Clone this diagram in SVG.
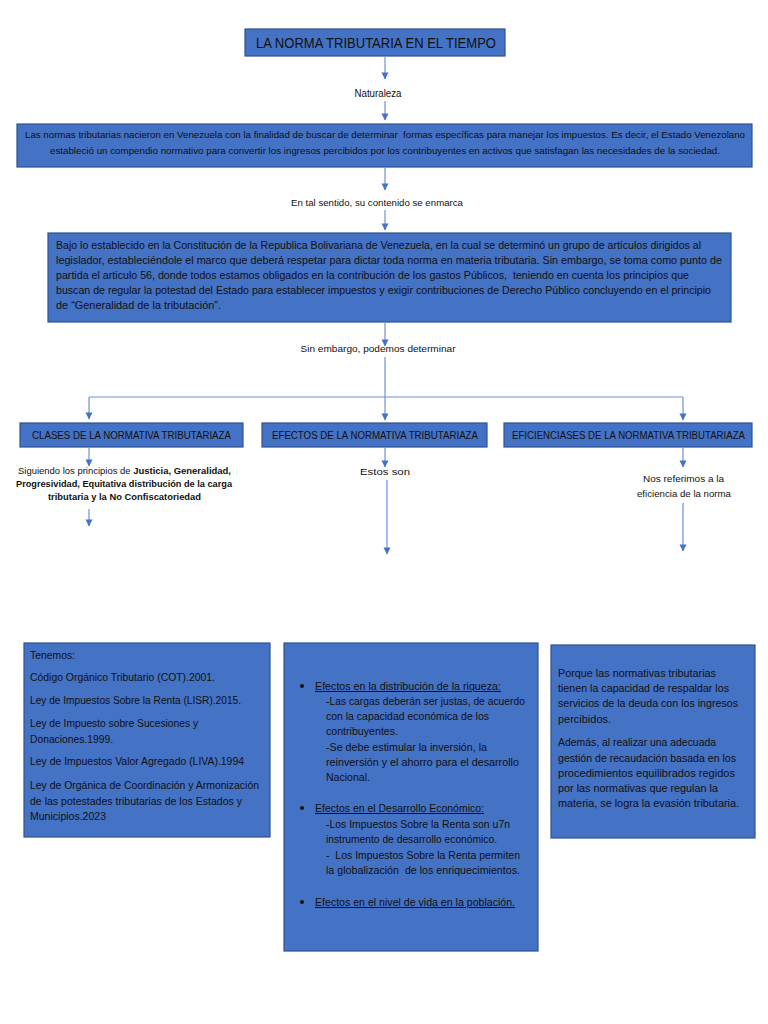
<svg xmlns="http://www.w3.org/2000/svg" width="768" height="1024" viewBox="0 0 768 1024">
<defs>
<marker id="ah" markerUnits="userSpaceOnUse" markerWidth="8" markerHeight="8" viewBox="0 0 8 8" refX="7" refY="4" orient="auto">
<path d="M0.5,0.5 L7.5,4 L0.5,7.5 Z" fill="#4472C4"/>
</marker>
<style>
.box{fill:#4472C4;stroke:#2F528F;stroke-width:1.2}
.t{font-family:"Liberation Sans",Arial,sans-serif;fill:#111;}
.s9{font-size:9px}
.s10{font-size:10px}
.s11{font-size:11px}
.s14{font-size:14px}
.c{text-anchor:middle}
.b{font-weight:bold}
.u{text-decoration:underline}
.pre{white-space:pre}
.ln{stroke:#6F93D6;stroke-width:1.2;fill:none}
</style>
</defs>
<rect width="768" height="1024" fill="#fff"/>

<g id="connectors">
<path class="ln" d="M385,57 V79" marker-end="url(#ah)"/>
<path class="ln" d="M385,101 V120" marker-end="url(#ah)"/>
<path class="ln" d="M385,168 V190" marker-end="url(#ah)"/>
<path class="ln" d="M385,210 V230" marker-end="url(#ah)"/>
<path class="ln" d="M385,323 V346" marker-end="url(#ah)"/>
<path class="ln" d="M385,357 V397"/>
<path class="ln" d="M89,397 H683"/>
<path class="ln" d="M89,397 V419" marker-end="url(#ah)"/>
<path class="ln" d="M385,397 V420" marker-end="url(#ah)"/>
<path class="ln" d="M683,397 V420" marker-end="url(#ah)"/>
<path class="ln" d="M89,448 V466" marker-end="url(#ah)"/>
<path class="ln" d="M89,509 V526" marker-end="url(#ah)"/>
<path class="ln" d="M385,448 V467" marker-end="url(#ah)"/>
<path class="ln" d="M387,480 V554" marker-end="url(#ah)"/>
<path class="ln" d="M683,448 V467" marker-end="url(#ah)"/>
<path class="ln" d="M683,503 V551" marker-end="url(#ah)"/>
</g>

<g id="title">
<rect class="box" x="245" y="29" width="260" height="27"/>
<text class="t s14 c" x="376" y="48" textLength="240" lengthAdjust="spacingAndGlyphs">LA NORMA TRIBUTARIA EN EL TIEMPO</text>
</g>

<g id="label-naturaleza">
<text class="t s10 c" x="378" y="97" textLength="47" lengthAdjust="spacingAndGlyphs">Naturaleza</text>
</g>

<g id="box-origen">
<rect class="box" x="17" y="124" width="735" height="43"/>
<text class="t s9 c pre" x="385" y="137.5" textLength="720" lengthAdjust="spacingAndGlyphs">Las normas tributarias nacieron en Venezuela con la finalidad de buscar de determinar  formas específicas para manejar los impuestos. Es decir, el Estado Venezolano</text>
<text class="t s9 c" x="385" y="153.5" textLength="670" lengthAdjust="spacingAndGlyphs">estableció un compendio normativo para convertir los ingresos percibidos por los contribuyentes en activos que satisfagan las necesidades de la sociedad.</text>
</g>

<g id="label-sentido">
<text class="t s9 c" x="377" y="206" textLength="172" lengthAdjust="spacingAndGlyphs">En tal sentido, su contenido se enmarca</text>
</g>

<g id="box-constitucion">
<rect class="box" x="48" y="233" width="683" height="89"/>
<text class="t s10" x="56" y="248.5" textLength="645" lengthAdjust="spacingAndGlyphs">Bajo lo establecido en la Constitución de la Republica Bolivariana de Venezuela, en la cual se determinó un grupo de artículos dirigidos al</text>
<text class="t s10" x="56" y="263.5" textLength="666" lengthAdjust="spacingAndGlyphs">legislador, estableciéndole el marco que deberá respetar para dictar toda norma en materia tributaria. Sin embargo, se toma como punto de</text>
<text class="t s10 pre" x="56" y="278.5" textLength="633" lengthAdjust="spacingAndGlyphs">partida el articulo 56, donde todos estamos obligados en la contribución de los gastos Públicos,  teniendo en cuenta los principios que</text>
<text class="t s10" x="56" y="293.5" textLength="655" lengthAdjust="spacingAndGlyphs">buscan de regular la potestad del Estado para establecer impuestos y exigir contribuciones de Derecho Público concluyendo en el principio</text>
<text class="t s10" x="56" y="308.5" textLength="165" lengthAdjust="spacingAndGlyphs">de “Generalidad de la tributación”.</text>
</g>

<g id="label-sin-embargo">
<text class="t s9 c" x="378" y="352" textLength="155" lengthAdjust="spacingAndGlyphs">Sin embargo, podemos determinar</text>
</g>

<g id="header-clases">
<rect class="box" x="20" y="423" width="223" height="24"/>
<text class="t s10 c" x="131.5" y="438.5" textLength="199" lengthAdjust="spacingAndGlyphs">CLASES DE LA NORMATIVA TRIBUTARIAZA</text>
</g>

<g id="header-efectos">
<rect class="box" x="262" y="423" width="225" height="24"/>
<text class="t s10 c" x="375" y="438.5" textLength="206" lengthAdjust="spacingAndGlyphs">EFECTOS DE LA NORMATIVA TRIBUTARIAZA</text>
</g>

<g id="header-eficiencias">
<rect class="box" x="504" y="423" width="248" height="24"/>
<text class="t s10 c" x="628.5" y="438.5" textLength="233" lengthAdjust="spacingAndGlyphs">EFICIENCIASES DE LA NORMATIVA TRIBUTARIAZA</text>
</g>

<g id="label-principios">
<text class="t s9 c" x="124.5" y="474" textLength="213" lengthAdjust="spacingAndGlyphs">Siguiendo los principios de <tspan class="b">Justicia, Generalidad,</tspan></text>
<text class="t s9 c b" x="124" y="487" textLength="216" lengthAdjust="spacingAndGlyphs">Progresividad, Equitativa distribución de la carga</text>
<text class="t s9 c b" x="124.5" y="500" textLength="153" lengthAdjust="spacingAndGlyphs">tributaria y la No Confiscatoriedad</text>
</g>

<g id="label-estos">
<text class="t s9 c" x="385" y="475" textLength="50" lengthAdjust="spacingAndGlyphs">Estos son</text>
</g>

<g id="label-nos-referimos">
<text class="t s9 c" x="683.5" y="482" textLength="81" lengthAdjust="spacingAndGlyphs">Nos referimos a la</text>
<text class="t s9 c" x="684" y="497" textLength="94" lengthAdjust="spacingAndGlyphs">eficiencia de la norma</text>
</g>

<g id="box-tenemos">
<rect class="box" x="24" y="643" width="246" height="194"/>
<text class="t s10" x="30" y="659" textLength="45" lengthAdjust="spacingAndGlyphs">Tenemos:</text>
<text class="t s10" x="30" y="681" textLength="185" lengthAdjust="spacingAndGlyphs">Código Orgánico Tributario (COT).2001.</text>
<text class="t s10" x="30" y="704" textLength="211" lengthAdjust="spacingAndGlyphs">Ley de Impuestos Sobre la Renta (LISR).2015.</text>
<text class="t s10" x="30" y="727" textLength="168" lengthAdjust="spacingAndGlyphs">Ley de Impuesto sobre Sucesiones y</text>
<text class="t s10" x="30" y="743" textLength="83" lengthAdjust="spacingAndGlyphs">Donaciones.1999.</text>
<text class="t s10" x="30" y="765" textLength="214" lengthAdjust="spacingAndGlyphs">Ley de Impuestos Valor Agregado (LIVA).1994</text>
<text class="t s10" x="30" y="789" textLength="229" lengthAdjust="spacingAndGlyphs">Ley de Orgánica de Coordinación y Armonización</text>
<text class="t s10" x="30" y="805" textLength="212" lengthAdjust="spacingAndGlyphs">de las potestades tributarias de los Estados y</text>
<text class="t s10" x="30" y="820" textLength="76" lengthAdjust="spacingAndGlyphs">Municipios.2023</text>
</g>

<g id="box-efectos">
<rect class="box" x="284" y="643" width="254" height="308"/>
<circle cx="302" cy="686" r="2" fill="#111"/>
<text class="t s10 u" x="315" y="690" textLength="186" lengthAdjust="spacingAndGlyphs">Efectos en la distribución de la riqueza:</text>
<text class="t s10" x="326" y="705" textLength="199" lengthAdjust="spacingAndGlyphs">-Las cargas deberán ser justas, de acuerdo</text>
<text class="t s10" x="326" y="720" textLength="163" lengthAdjust="spacingAndGlyphs">con la capacidad económica de los</text>
<text class="t s10" x="326" y="735" textLength="72" lengthAdjust="spacingAndGlyphs">contribuyentes.</text>
<text class="t s10" x="326" y="751" textLength="161" lengthAdjust="spacingAndGlyphs">-Se debe estimular la inversión, la</text>
<text class="t s10" x="326" y="766" textLength="193" lengthAdjust="spacingAndGlyphs">reinversión y el ahorro para el desarrollo</text>
<text class="t s10" x="326" y="781" textLength="44" lengthAdjust="spacingAndGlyphs">Nacional.</text>
<circle cx="302" cy="808" r="2" fill="#111"/>
<text class="t s10 u" x="315" y="812" textLength="169" lengthAdjust="spacingAndGlyphs">Efectos en el Desarrollo Económico:</text>
<text class="t s10" x="326" y="828" textLength="184" lengthAdjust="spacingAndGlyphs">-Los Impuestos Sobre la Renta son u7n</text>
<text class="t s10" x="326" y="843" textLength="171" lengthAdjust="spacingAndGlyphs">instrumento de desarrollo económico.</text>
<text class="t s10 pre" x="326" y="859" textLength="194" lengthAdjust="spacingAndGlyphs">-  Los Impuestos Sobre la Renta permiten</text>
<text class="t s10 pre" x="326" y="874" textLength="194" lengthAdjust="spacingAndGlyphs">la globalización  de los enriquecimientos.</text>
<circle cx="302" cy="902" r="2" fill="#111"/>
<text class="t s10 u" x="315" y="906" textLength="200" lengthAdjust="spacingAndGlyphs">Efectos en el nivel de vida en la población.</text>
</g>

<g id="box-porque">
<rect class="box" x="551" y="645" width="204" height="193"/>
<text class="t s10" x="558" y="677" textLength="158" lengthAdjust="spacingAndGlyphs">Porque las normativas tributarias</text>
<text class="t s10" x="558" y="692" textLength="171" lengthAdjust="spacingAndGlyphs">tienen la capacidad de respaldar los</text>
<text class="t s10" x="558" y="707" textLength="180" lengthAdjust="spacingAndGlyphs">servicios de la deuda con los ingresos</text>
<text class="t s10" x="558" y="723" textLength="53" lengthAdjust="spacingAndGlyphs">percibidos.</text>
<text class="t s10" x="558" y="746" textLength="158" lengthAdjust="spacingAndGlyphs">Además, al realizar una adecuada</text>
<text class="t s10" x="558" y="762" textLength="178" lengthAdjust="spacingAndGlyphs">gestión de recaudación basada en los</text>
<text class="t s10" x="558" y="777" textLength="177" lengthAdjust="spacingAndGlyphs">procedimientos equilibrados regidos</text>
<text class="t s10" x="558" y="792" textLength="160" lengthAdjust="spacingAndGlyphs">por las normativas que regulan la</text>
<text class="t s10" x="558" y="807" textLength="181" lengthAdjust="spacingAndGlyphs">materia, se logra la evasión tributaria.</text>
</g>
</svg>
